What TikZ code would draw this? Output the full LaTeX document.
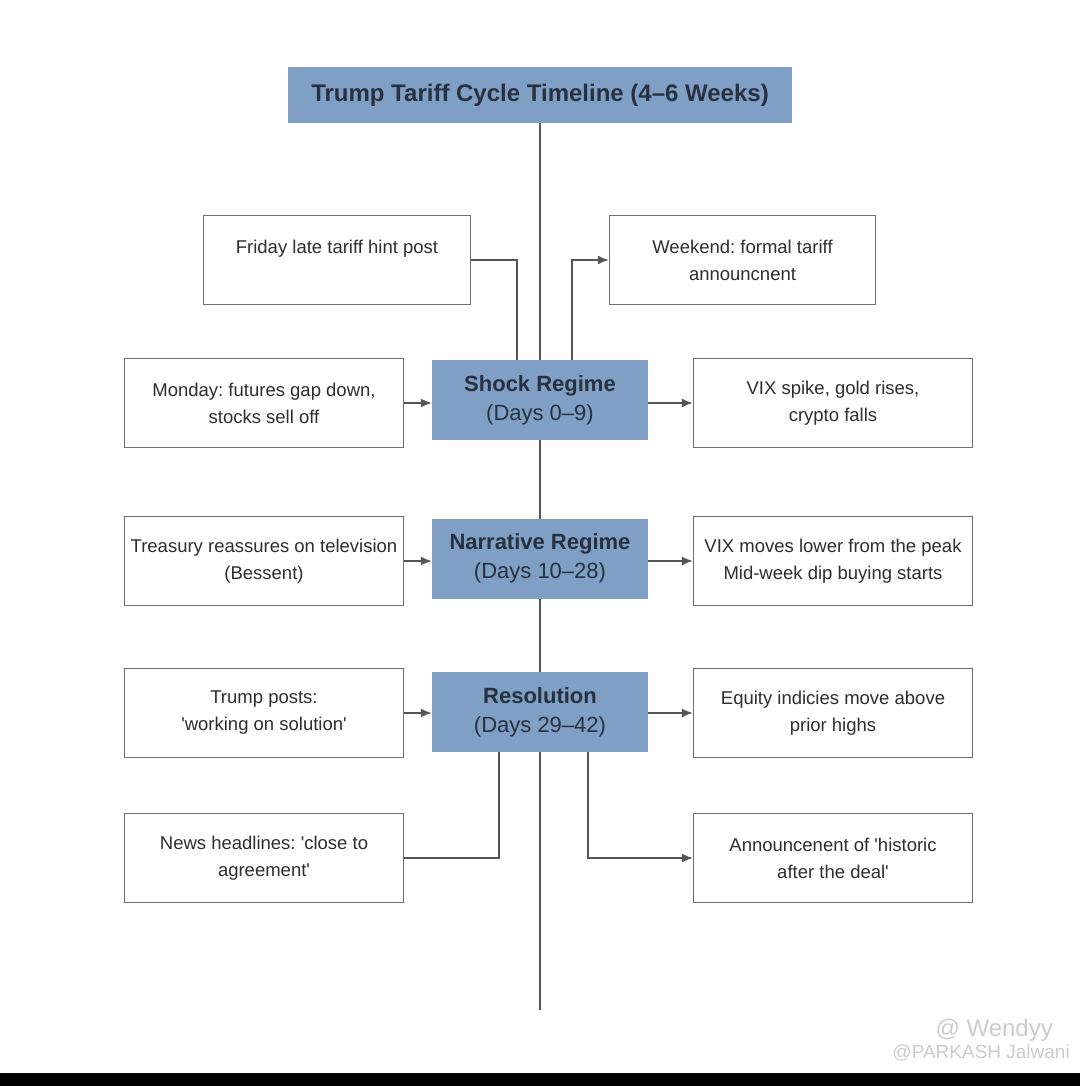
\documentclass[tikz,border=0pt]{standalone}
\usepackage{fontspec}
\setmainfont{Liberation Sans}
\usepackage{xcolor}
\usetikzlibrary{arrows.meta}
\frenchspacing
\definecolor{regimeblue}{HTML}{7F9FC4}
\definecolor{navytext}{HTML}{27313F}
\definecolor{boxgray}{HTML}{6E6E6E}
\definecolor{linegray}{HTML}{555555}
\definecolor{eventtext}{HTML}{2E2E2E}
\tikzset{>={Latex[length=11pt,width=9pt]}}
\tikzset{event/.style = {shape=rectangle,draw=boxgray,line width=1.3pt,fill=white,minimum width=279pt,minimum height=89pt,inner sep=0pt,align=center,text=eventtext,font=\fontsize{18.5}{27}\selectfont}}
\tikzset{regime/.style = {shape=rectangle,fill=regimeblue,minimum width=216pt,minimum height=80pt,inner sep=0pt,align=center,text=navytext,font=\fontsize{22}{29}\selectfont}}
\tikzset{link/.style = {draw=linegray,line width=1.7pt}}
\tikzset{mark text/.style = {text=gray!40,inner sep=0pt,anchor=base east}}
\newcommand{\sq}{\textquotesingle}

\begin{document}
\begin{tikzpicture}[x=1pt,y=-1pt]
                    \useasboundingbox (0,0) rectangle (1080,1086);
                    \fill[white] (0,0) rectangle (1080,1086);

                    \coordinate (top) at (540,123);
                    \coordinate (bottom) at (540,1010);
                    \draw[link] (top) -- (bottom);

                    \node[regime,minimum width=504pt,minimum height=56pt,font=\fontsize{24}{29}\selectfont\bfseries] (T) at (540,95) {Trump Tariff Cycle Timeline (4–6 Weeks)};

                    \node[regime] (S) at (540,400) {\textbf{Shock Regime}\\(Days 0–9)};
                    \node[regime] (N) at (540,558.5) {\textbf{Narrative Regime}\\(Days 10–28)};
                    \node[regime] (R) at (540,712) {\textbf{Resolution}\\(Days 29–42)};

                    \node[event,minimum width=267pt] (F) at (337,260) {Friday late tariff hint post\\\mbox{}};
                    \node[event,minimum width=266pt] (W) at (742.5,260) {Weekend: formal tariff\\announcnent};

                    \node[event] (M) at (264,403) {Monday: futures gap down,\\stocks sell off};
                    \node[event] (V) at (833,403) {VIX spike, gold rises,\\crypto falls};

                    \node[event] (B) at (264,561) {Treasury reassures on television\\(Bessent)};
                    \node[event] (L) at (833,561) {VIX moves lower from the peak\\Mid-week dip buying starts};

                    \node[event] (P) at (264,713) {Trump posts:\\\sq working on solution\sq};
                    \node[event] (E) at (833,713) {Equity indicies move above\\prior highs};

                    \node[event] (H) at (264,858) {News headlines: \sq close to\\agreement\sq};
                    \node[event] (A) at (833,858) {Announcenent of \sq historic\\after the deal\sq};

                    \draw[link] (F.east) -| ([xshift=-23pt]S.north);
                    \draw[link,->] ([xshift=32pt]S.north) |- (W.west);

                    \draw[link,->] (M.east) -- (M.east -| S.west);
                    \draw[link,->] (S.east |- V.west) -- (V.west);

                    \draw[link,->] (B.east) -- (B.east -| N.west);
                    \draw[link,->] (N.east |- L.west) -- (L.west);

                    \draw[link,->] (P.east) -- (P.east -| R.west);
                    \draw[link,->] (R.east |- E.west) -- (E.west);

                    \draw[link] ([xshift=-41pt]R.south) |- (H.east);
                    \draw[link,->] ([xshift=48pt]R.south) |- (A.west);

                    \node[mark text,font=\fontsize{24}{24}\selectfont] (W1) at (1053,1036) {@ Wendyy};
                    \node[mark text,font=\fontsize{19}{19}\selectfont] (W2) at (1070,1058) {@PARKASH Jalwani};

                    \fill[black] (0,1073) rectangle (1080,1086);
                \end{tikzpicture}
\end{document}
